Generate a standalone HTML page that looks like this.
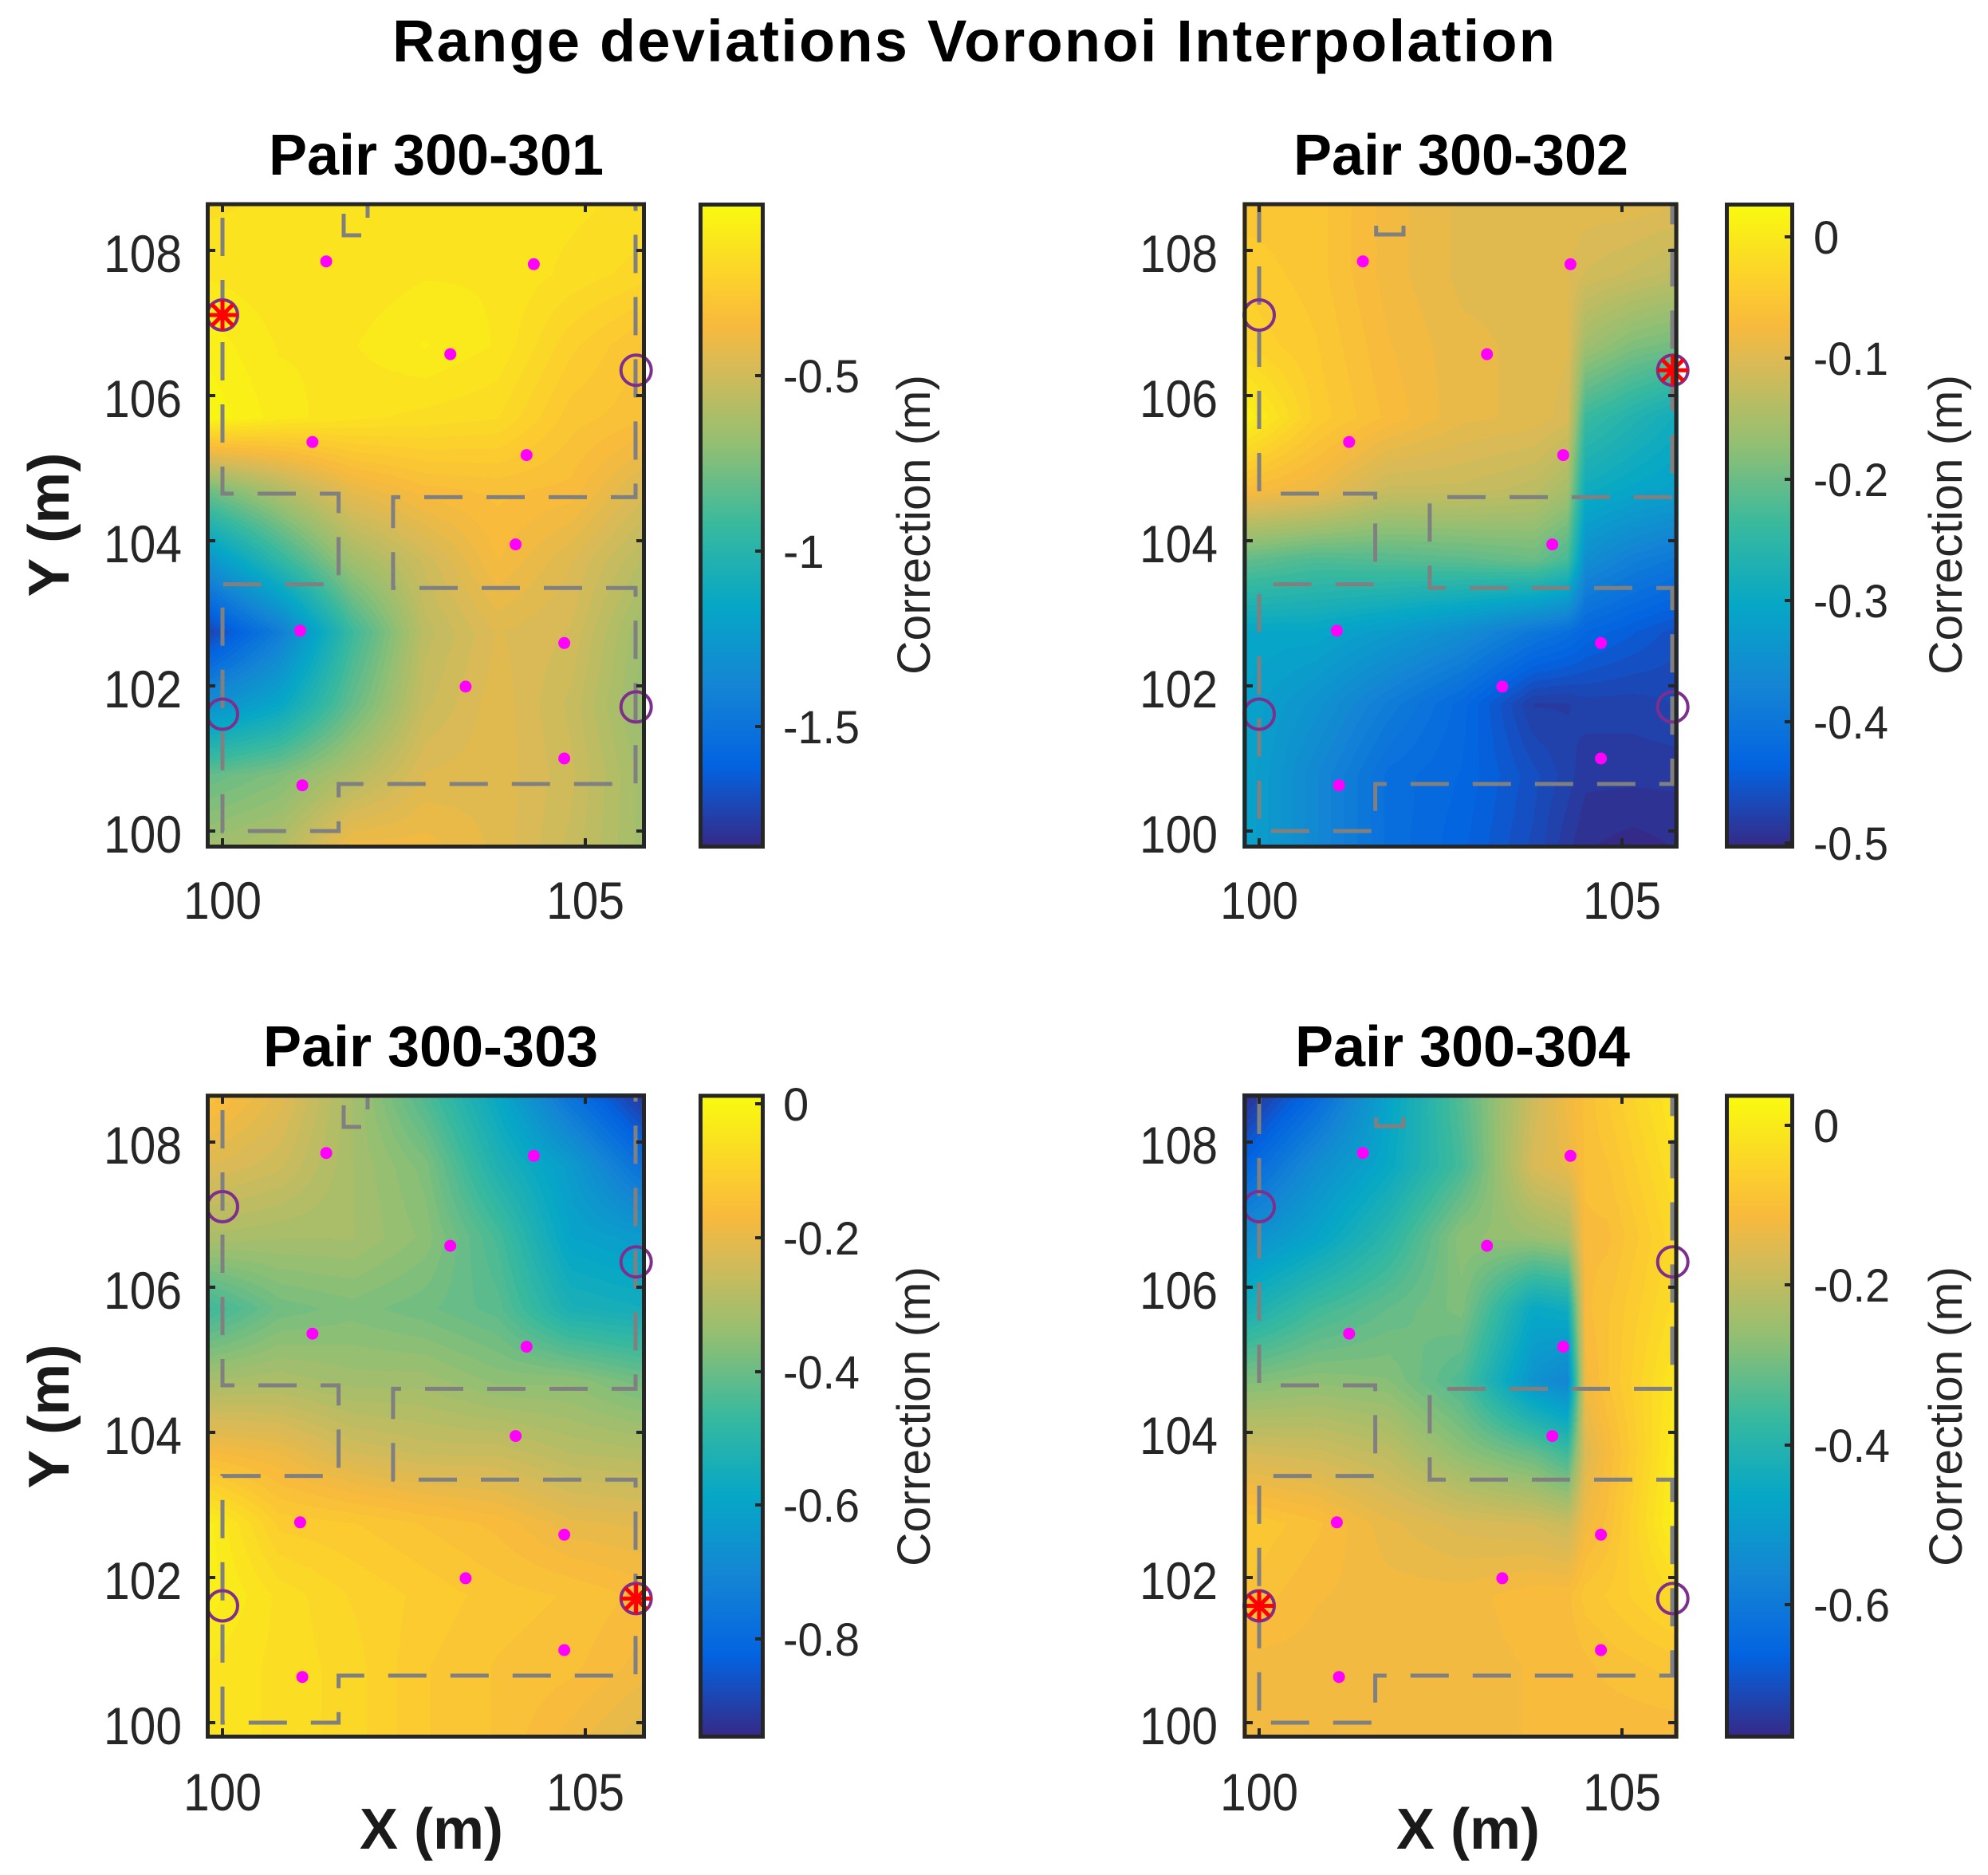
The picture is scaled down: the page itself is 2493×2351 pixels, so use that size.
<!DOCTYPE html>
<html><head><meta charset="utf-8">
<style>
html,body{margin:0;padding:0;background:#fff;}
#wrap{position:relative;width:2493px;height:2351px;overflow:hidden;background:#fff;}
canvas{position:absolute;}
#ov{position:absolute;left:0;top:0;}
</style></head><body>
<div id="wrap">
<canvas id="c1" width="552" height="810" style="left:258px;top:254px;width:552px;height:810px;background:#D9C24A"></canvas>
<canvas id="c2" width="547" height="810" style="left:1558px;top:254px;width:547px;height:810px;background:#7FA6A0"></canvas>
<canvas id="c3" width="552" height="809" style="left:258px;top:1371px;width:552px;height:809px;background:#B9BE6A"></canvas>
<canvas id="c4" width="547" height="809" style="left:1558px;top:1371px;width:547px;height:809px;background:#C9BA6A"></canvas>
<svg id="ov" width="2493" height="2351" viewBox="0 0 2493 2351" xmlns="http://www.w3.org/2000/svg" font-family="'Liberation Sans', Arial, Helvetica, sans-serif">
<defs>
<linearGradient id="par" x1="0" y1="0" x2="0" y2="1">
<stop offset="0" stop-color="#F9FB0E"/>
<stop offset="0.125" stop-color="#FCCE2E"/>
<stop offset="0.1875" stop-color="#F8BA3C"/>
<stop offset="0.25" stop-color="#D9BA56"/>
<stop offset="0.375" stop-color="#92BF73"/>
<stop offset="0.5" stop-color="#38B99E"/>
<stop offset="0.625" stop-color="#06A7C6"/>
<stop offset="0.75" stop-color="#1485D4"/>
<stop offset="0.875" stop-color="#0363E1"/>
<stop offset="1" stop-color="#352A87"/>
</linearGradient>
</defs>

<!-- main title -->
<text x="1221" y="77" text-anchor="middle" font-size="74" font-weight="bold" fill="#000" textLength="1458" lengthAdjust="spacing">Range deviations Voronoi Interpolation</text>

<!-- subplot titles -->
<text x="547" y="219" text-anchor="middle" font-size="72" font-weight="bold" fill="#000" textLength="420" lengthAdjust="spacing">Pair 300-301</text>
<text x="1832" y="219" text-anchor="middle" font-size="72" font-weight="bold" fill="#000" textLength="420" lengthAdjust="spacing">Pair 300-302</text>
<text x="540" y="1337" text-anchor="middle" font-size="72" font-weight="bold" fill="#000" textLength="420" lengthAdjust="spacing">Pair 300-303</text>
<text x="1834" y="1337" text-anchor="middle" font-size="72" font-weight="bold" fill="#000" textLength="420" lengthAdjust="spacing">Pair 300-304</text>

<!-- plot content groups (local coords of plot 1) -->
<g fill="none">
  <path d="M279,256 V619 H424.6 V732.6 H279 V1042 H424.6 V983 H797 V737.2 H492.9 V623.4 H797 V256" stroke="#808080" stroke-width="5" stroke-dasharray="48 30" stroke-dashoffset="61"/>
  <path d="M431,268 V295 H453 M461,256 V273" stroke="#808080" stroke-width="5"/>
</g>
<g transform="translate(1300,0)" fill="none">
  <path d="M279,256 V619 H424.6 V732.6 H279 V1042 H424.6 V983 H797 V737.2 H492.9 V623.4 H797 V256" stroke="#808080" stroke-width="5" stroke-dasharray="48 30" stroke-dashoffset="0"/>
  <path d="M425.7,283 V294 H460 V283" stroke="#808080" stroke-width="5"/>
</g>
<g transform="translate(0,1118)" fill="none">
  <path d="M279,256 V619 H424.6 V732.6 H279 V1042 H424.6 V983 H797 V737.2 H492.9 V623.4 H797 V256" stroke="#808080" stroke-width="5" stroke-dasharray="48 30" stroke-dashoffset="60"/>
  <path d="M431,268 V295 H453 M461,256 V273" stroke="#808080" stroke-width="5"/>
</g>
<g transform="translate(1300,1118)" fill="none">
  <path d="M279,256 V619 H424.6 V732.6 H279 V1042 H424.6 V983 H797 V737.2 H492.9 V623.4 H797 V256" stroke="#808080" stroke-width="5" stroke-dasharray="48 30" stroke-dashoffset="0"/>
  <path d="M425.7,283 V294 H460 V283" stroke="#808080" stroke-width="5"/>
</g>

<!-- markers -->
<g>
<g fill="#FF00FF">
<circle cx="409.1" cy="327.7" r="7.5"/><circle cx="669.4" cy="331.3" r="7.5"/><circle cx="564.7" cy="444.1" r="7.5"/>
<circle cx="391.8" cy="554.2" r="7.5"/><circle cx="660.3" cy="570.6" r="7.5"/><circle cx="646.6" cy="682.6" r="7.5"/>
<circle cx="376.4" cy="790.8" r="7.5"/><circle cx="707.6" cy="806.3" r="7.5"/><circle cx="583.9" cy="860.9" r="7.5"/>
<circle cx="707.6" cy="951" r="7.5"/><circle cx="379.1" cy="984.7" r="7.5"/>
</g>
<g fill="none" stroke="#7E2F8E" stroke-width="4">
<circle cx="279" cy="395" r="19"/><circle cx="279" cy="895.5" r="19"/>
<circle cx="797.7" cy="464.2" r="19"/><circle cx="797.7" cy="886.4" r="19"/>
</g>
</g>
<g transform="translate(1300,0)">
<g fill="#FF00FF">
<circle cx="409.1" cy="327.7" r="7.5"/><circle cx="669.4" cy="331.3" r="7.5"/><circle cx="564.7" cy="444.1" r="7.5"/>
<circle cx="391.8" cy="554.2" r="7.5"/><circle cx="660.3" cy="570.6" r="7.5"/><circle cx="646.6" cy="682.6" r="7.5"/>
<circle cx="376.4" cy="790.8" r="7.5"/><circle cx="707.6" cy="806.3" r="7.5"/><circle cx="583.9" cy="860.9" r="7.5"/>
<circle cx="707.6" cy="951" r="7.5"/><circle cx="379.1" cy="984.7" r="7.5"/>
</g>
<g fill="none" stroke="#7E2F8E" stroke-width="4">
<circle cx="279" cy="395" r="19"/><circle cx="279" cy="895.5" r="19"/>
<circle cx="797.7" cy="464.2" r="19"/><circle cx="797.7" cy="886.4" r="19"/>
</g>
</g>
<g transform="translate(0,1118)">
<g fill="#FF00FF">
<circle cx="409.1" cy="327.7" r="7.5"/><circle cx="669.4" cy="331.3" r="7.5"/><circle cx="564.7" cy="444.1" r="7.5"/>
<circle cx="391.8" cy="554.2" r="7.5"/><circle cx="660.3" cy="570.6" r="7.5"/><circle cx="646.6" cy="682.6" r="7.5"/>
<circle cx="376.4" cy="790.8" r="7.5"/><circle cx="707.6" cy="806.3" r="7.5"/><circle cx="583.9" cy="860.9" r="7.5"/>
<circle cx="707.6" cy="951" r="7.5"/><circle cx="379.1" cy="984.7" r="7.5"/>
</g>
<g fill="none" stroke="#7E2F8E" stroke-width="4">
<circle cx="279" cy="395" r="19"/><circle cx="279" cy="895.5" r="19"/>
<circle cx="797.7" cy="464.2" r="19"/><circle cx="797.7" cy="886.4" r="19"/>
</g>
</g>
<g transform="translate(1300,1118)">
<g fill="#FF00FF">
<circle cx="409.1" cy="327.7" r="7.5"/><circle cx="669.4" cy="331.3" r="7.5"/><circle cx="564.7" cy="444.1" r="7.5"/>
<circle cx="391.8" cy="554.2" r="7.5"/><circle cx="660.3" cy="570.6" r="7.5"/><circle cx="646.6" cy="682.6" r="7.5"/>
<circle cx="376.4" cy="790.8" r="7.5"/><circle cx="707.6" cy="806.3" r="7.5"/><circle cx="583.9" cy="860.9" r="7.5"/>
<circle cx="707.6" cy="951" r="7.5"/><circle cx="379.1" cy="984.7" r="7.5"/>
</g>
<g fill="none" stroke="#7E2F8E" stroke-width="4">
<circle cx="279" cy="395" r="19"/><circle cx="279" cy="895.5" r="19"/>
<circle cx="797.7" cy="464.2" r="19"/><circle cx="797.7" cy="886.4" r="19"/>
</g>
</g>

<!-- red stars -->
<g fill="none" stroke="#FF0000" stroke-width="5">
<path transform="translate(279,395)" d="M-19,0H19M0,-19V19M-13.4,-13.4L13.4,13.4M-13.4,13.4L13.4,-13.4"/>
<path transform="translate(2097.7,464.2)" d="M-19,0H19M0,-19V19M-13.4,-13.4L13.4,13.4M-13.4,13.4L13.4,-13.4"/>
<path transform="translate(797.7,2004.4)" d="M-19,0H19M0,-19V19M-13.4,-13.4L13.4,13.4M-13.4,13.4L13.4,-13.4"/>
<path transform="translate(1579,2013.5)" d="M-19,0H19M0,-19V19M-13.4,-13.4L13.4,13.4M-13.4,13.4L13.4,-13.4"/>
</g>

<!-- axes frames and ticks -->
<g fill="none" stroke="#262626" stroke-width="5">
<rect x="260.5" y="256" width="547" height="805.5"/>
<rect x="1561" y="256" width="541" height="805.5"/>
<rect x="260.5" y="1374" width="547" height="803.5"/>
<rect x="1561" y="1374" width="541" height="803.5"/>
</g>
<g stroke="#262626" stroke-width="4">
<path d="M260,314h10M260,496h10M260,678h10M260,860h10M260,1042h10M808,314h-10M808,496h-10M808,678h-10M808,860h-10M808,1042h-10M279,1061v-10M734,1061v-10M279,256v10M734,256v10"/>
<path d="M1561,314h10M1561,496h10M1561,678h10M1561,860h10M1561,1042h10M2102,314h-10M2102,496h-10M2102,678h-10M2102,860h-10M2102,1042h-10M1579,1061v-10M2034,1061v-10M1579,256v10M2034,256v10"/>
<path d="M260,1432h10M260,1614h10M260,1796h10M260,1978h10M260,2160h10M808,1432h-10M808,1614h-10M808,1796h-10M808,1978h-10M808,2160h-10M279,2177v-10M734,2177v-10M279,1374v10M734,1374v10"/>
<path d="M1561,1432h10M1561,1614h10M1561,1796h10M1561,1978h10M1561,2160h10M2102,1432h-10M2102,1614h-10M2102,1796h-10M2102,1978h-10M2102,2160h-10M1579,2177v-10M2034,2177v-10M1579,1374v10M2034,1374v10"/>
</g>

<!-- colorbars -->
<rect x="878" y="256" width="79" height="805" fill="url(#par)"/>
<rect x="2165" y="256" width="83" height="805" fill="url(#par)"/>
<rect x="878" y="1374" width="79" height="803" fill="url(#par)"/>
<rect x="2165" y="1374" width="83" height="803" fill="url(#par)"/>
<g fill="none" stroke="#262626" stroke-width="5">
<rect x="878.5" y="256.5" width="78" height="805"/>
<rect x="2165.5" y="256.5" width="82" height="805"/>
<rect x="878.5" y="1374" width="78" height="803.5"/>
<rect x="2165.5" y="1374" width="82" height="803.5"/>
</g>
<g stroke="#262626" stroke-width="4">
<path d="M957,471h-10M957,691h-10M957,911h-10"/>
<path d="M2248,297h-10M2248,449h-10M2248,601h-10M2248,753h-10M2248,905h-10M2248,1057h-10"/>
<path d="M957,1384h-10M957,1552h-10M957,1720h-10M957,1887h-10M957,2055h-10"/>
<path d="M2248,1411h-10M2248,1611h-10M2248,1812h-10M2248,2012h-10"/>
</g>

<!-- tick labels -->
<g fill="#262626" font-size="66">
<g text-anchor="end">
<text x="228" y="341" textLength="98" lengthAdjust="spacingAndGlyphs">108</text>
<text x="228" y="523" textLength="98" lengthAdjust="spacingAndGlyphs">106</text>
<text x="228" y="705" textLength="98" lengthAdjust="spacingAndGlyphs">104</text>
<text x="228" y="887" textLength="98" lengthAdjust="spacingAndGlyphs">102</text>
<text x="228" y="1069" textLength="98" lengthAdjust="spacingAndGlyphs">100</text>
<text x="1527" y="341" textLength="98" lengthAdjust="spacingAndGlyphs">108</text>
<text x="1527" y="523" textLength="98" lengthAdjust="spacingAndGlyphs">106</text>
<text x="1527" y="705" textLength="98" lengthAdjust="spacingAndGlyphs">104</text>
<text x="1527" y="887" textLength="98" lengthAdjust="spacingAndGlyphs">102</text>
<text x="1527" y="1069" textLength="98" lengthAdjust="spacingAndGlyphs">100</text>
<text x="228" y="1459" textLength="98" lengthAdjust="spacingAndGlyphs">108</text>
<text x="228" y="1641" textLength="98" lengthAdjust="spacingAndGlyphs">106</text>
<text x="228" y="1823" textLength="98" lengthAdjust="spacingAndGlyphs">104</text>
<text x="228" y="2005" textLength="98" lengthAdjust="spacingAndGlyphs">102</text>
<text x="228" y="2187" textLength="98" lengthAdjust="spacingAndGlyphs">100</text>
<text x="1527" y="1459" textLength="98" lengthAdjust="spacingAndGlyphs">108</text>
<text x="1527" y="1641" textLength="98" lengthAdjust="spacingAndGlyphs">106</text>
<text x="1527" y="1823" textLength="98" lengthAdjust="spacingAndGlyphs">104</text>
<text x="1527" y="2005" textLength="98" lengthAdjust="spacingAndGlyphs">102</text>
<text x="1527" y="2187" textLength="98" lengthAdjust="spacingAndGlyphs">100</text>
</g>
<g text-anchor="middle">
<text x="279" y="1152" textLength="98" lengthAdjust="spacingAndGlyphs">100</text>
<text x="734" y="1152" textLength="98" lengthAdjust="spacingAndGlyphs">105</text>
<text x="1579" y="1152" textLength="98" lengthAdjust="spacingAndGlyphs">100</text>
<text x="2034" y="1152" textLength="98" lengthAdjust="spacingAndGlyphs">105</text>
<text x="279" y="2270" textLength="98" lengthAdjust="spacingAndGlyphs">100</text>
<text x="734" y="2270" textLength="98" lengthAdjust="spacingAndGlyphs">105</text>
<text x="1579" y="2270" textLength="98" lengthAdjust="spacingAndGlyphs">100</text>
<text x="2034" y="2270" textLength="98" lengthAdjust="spacingAndGlyphs">105</text>
</g>
</g>

<!-- colorbar labels -->
<g fill="#262626" font-size="58">
<text x="982" y="492" textLength="96" lengthAdjust="spacingAndGlyphs">-0.5</text>
<text x="982" y="712">-1</text>
<text x="982" y="932" textLength="96" lengthAdjust="spacingAndGlyphs">-1.5</text>

<text x="2274" y="318">0</text>
<text x="2274" y="470" textLength="94" lengthAdjust="spacingAndGlyphs">-0.1</text>
<text x="2274" y="622" textLength="94" lengthAdjust="spacingAndGlyphs">-0.2</text>
<text x="2274" y="774" textLength="94" lengthAdjust="spacingAndGlyphs">-0.3</text>
<text x="2274" y="926" textLength="94" lengthAdjust="spacingAndGlyphs">-0.4</text>
<text x="2274" y="1078" textLength="94" lengthAdjust="spacingAndGlyphs">-0.5</text>

<text x="982" y="1405">0</text>
<text x="982" y="1573" textLength="96" lengthAdjust="spacingAndGlyphs">-0.2</text>
<text x="982" y="1741" textLength="96" lengthAdjust="spacingAndGlyphs">-0.4</text>
<text x="982" y="1908" textLength="96" lengthAdjust="spacingAndGlyphs">-0.6</text>
<text x="982" y="2076" textLength="96" lengthAdjust="spacingAndGlyphs">-0.8</text>

<text x="2274" y="1432">0</text>
<text x="2274" y="1632" textLength="96" lengthAdjust="spacingAndGlyphs">-0.2</text>
<text x="2274" y="1833" textLength="96" lengthAdjust="spacingAndGlyphs">-0.4</text>
<text x="2274" y="2033" textLength="96" lengthAdjust="spacingAndGlyphs">-0.6</text>
</g>

<!-- colorbar titles -->
<g fill="#262626" font-size="58" text-anchor="middle">
<text transform="translate(1166,658) rotate(-90)" textLength="376" lengthAdjust="spacingAndGlyphs">Correction (m)</text>
<text transform="translate(2460,658) rotate(-90)" textLength="376" lengthAdjust="spacingAndGlyphs">Correction (m)</text>
<text transform="translate(1166,1776) rotate(-90)" textLength="376" lengthAdjust="spacingAndGlyphs">Correction (m)</text>
<text transform="translate(2460,1776) rotate(-90)" textLength="376" lengthAdjust="spacingAndGlyphs">Correction (m)</text>
</g>

<!-- axis labels -->
<g fill="#1a1a1a" font-size="72" font-weight="bold" text-anchor="middle">
<text transform="translate(86,658) rotate(-90)" textLength="181" lengthAdjust="spacingAndGlyphs">Y (m)</text>
<text transform="translate(86,1776) rotate(-90)" textLength="181" lengthAdjust="spacingAndGlyphs">Y (m)</text>
<text x="541" y="2318" textLength="180" lengthAdjust="spacingAndGlyphs">X (m)</text>
<text x="1841" y="2318" textLength="180" lengthAdjust="spacingAndGlyphs">X (m)</text>
</g>
</svg>
</div>
<script>
(function(){
var P=[[0,53,42,135],[0.125,3,99,225],[0.25,20,133,212],[0.375,6,167,198],[0.5,56,185,158],[0.625,146,191,115],[0.75,217,186,86],[0.8125,248,186,60],[0.875,252,206,46],[1,249,251,14]];
function cm(v){
  if(v<=0) return [53,42,135];
  if(v>=1) return [249,251,14];
  for(var i=1;i<P.length;i++){
    if(v<=P[i][0]){var a=P[i-1],b=P[i],t=(v-a[0])/(b[0]-a[0]);
      return [a[1]+(b[1]-a[1])*t,a[2]+(b[2]-a[2])*t,a[3]+(b[3]-a[3])*t];}
  }
  return [249,251,14];
}
var YS=[108.66,107.67,106.69,105.70,104.71,103.73,102.74,101.75,100.77,99.78];
function draw(id,L,T,W,H,X100,Y108,xs,V){
  var c=document.getElementById(id); if(!c||!c.getContext) return;
  var ctx=c.getContext('2d'); var img=ctx.createImageData(W,H), d=img.data;
  for(var py=0;py<H;py++){
    var y=108-(T+py+0.5-Y108)/91; var r=0;
    while(r<YS.length-2 && y<YS[r+1]) r++;
    var ty=(YS[r]-y)/(YS[r]-YS[r+1]); if(ty<0)ty=0; if(ty>1)ty=1;
    for(var px=0;px<W;px++){
      var x=100+(L+px+0.5-X100)/91; var k=0;
      while(k<xs.length-2 && x>xs[k+1]) k++;
      var tx=(x-xs[k])/(xs[k+1]-xs[k]); if(tx<0)tx=0; if(tx>1)tx=1;
      var v=(V[r][k]*(1-tx)+V[r][k+1]*tx)*(1-ty)+(V[r+1][k]*(1-tx)+V[r+1][k+1]*tx)*ty;
      v=Math.round(v*60)/60;
      var col=cm(v), i=(py*W+px)*4;
      d[i]=col[0]; d[i+1]=col[1]; d[i+2]=col[2]; d[i+3]=255;
    }
  }
  ctx.putImageData(img,0,0);
}
var X7=[99.77,100.78,101.78,102.79,103.79,104.8,105.8];
var V1=[
[0.92,0.93,0.93,0.93,0.93,0.93,0.92],
[0.94,0.93,0.93,0.94,0.94,0.92,0.90],
[0.97,0.94,0.94,0.96,0.94,0.88,0.84],
[0.99,0.95,0.93,0.92,0.91,0.85,0.83],
[0.58,0.68,0.78,0.82,0.83,0.82,0.75],
[0.30,0.48,0.65,0.73,0.81,0.76,0.69],
[0.05,0.22,0.50,0.70,0.76,0.74,0.64],
[0.28,0.37,0.56,0.72,0.77,0.72,0.63],
[0.56,0.60,0.68,0.76,0.77,0.73,0.65],
[0.65,0.68,0.80,0.80,0.77,0.72,0.65]];
var X2=[99.77,100.78,101.78,102.79,103.79,104.25,104.5,105.15,105.8];
var V2=[
[0.85,0.85,0.80,0.77,0.77,0.77,0.77,0.77,0.76],
[0.87,0.85,0.80,0.77,0.77,0.76,0.74,0.72,0.70],
[0.89,0.86,0.81,0.78,0.77,0.76,0.65,0.60,0.58],
[0.98,0.87,0.82,0.78,0.77,0.75,0.50,0.45,0.40],
[0.82,0.79,0.72,0.72,0.70,0.66,0.40,0.37,0.35],
[0.56,0.53,0.54,0.55,0.57,0.52,0.28,0.23,0.20],
[0.37,0.37,0.33,0.28,0.20,0.17,0.14,0.11,0.08],
[0.36,0.30,0.22,0.15,0.04,0.04,0.05,0.05,0.06],
[0.36,0.26,0.17,0.14,0.08,0.05,0.03,0.03,0.03],
[0.36,0.26,0.17,0.13,0.07,0.03,0.01,0.00,0.01]];
var V3=[
[0.84,0.77,0.66,0.53,0.38,0.18,0.02],
[0.76,0.73,0.66,0.60,0.44,0.33,0.17],
[0.67,0.66,0.66,0.62,0.52,0.36,0.33],
[0.50,0.58,0.60,0.58,0.55,0.43,0.41],
[0.66,0.67,0.65,0.65,0.62,0.62,0.58],
[0.81,0.79,0.74,0.72,0.72,0.69,0.68],
[0.97,0.87,0.86,0.84,0.82,0.78,0.77],
[0.97,0.92,0.89,0.87,0.85,0.84,0.82],
[0.94,0.92,0.90,0.86,0.84,0.83,0.80],
[0.94,0.92,0.90,0.86,0.84,0.80,0.76]];
var X4=[99.77,100.78,101.78,102.79,103.79,104.25,104.5,104.8,105.8];
var V4=[
[0.00,0.15,0.36,0.54,0.73,0.80,0.83,0.86,0.95],
[0.13,0.28,0.38,0.52,0.75,0.78,0.83,0.84,0.93],
[0.28,0.36,0.47,0.62,0.64,0.66,0.82,0.82,0.91],
[0.42,0.51,0.56,0.60,0.38,0.40,0.82,0.84,0.92],
[0.60,0.62,0.61,0.53,0.30,0.25,0.80,0.84,0.95],
[0.74,0.73,0.70,0.62,0.56,0.50,0.76,0.81,0.97],
[0.86,0.83,0.78,0.75,0.74,0.72,0.80,0.83,0.98],
[0.84,0.81,0.80,0.80,0.82,0.82,0.85,0.86,0.91],
[0.80,0.80,0.80,0.80,0.81,0.81,0.82,0.83,0.85],
[0.80,0.80,0.80,0.80,0.81,0.81,0.81,0.81,0.81]];
draw('c1',258,254,552,810,279,314,X7,V1);
draw('c2',1558,254,547,810,1579,314,X2,V2);
draw('c3',258,1371,552,809,279,1432,X7,V3);
draw('c4',1558,1371,547,809,1579,1432,X4,V4);
})();
</script>
</body></html>
